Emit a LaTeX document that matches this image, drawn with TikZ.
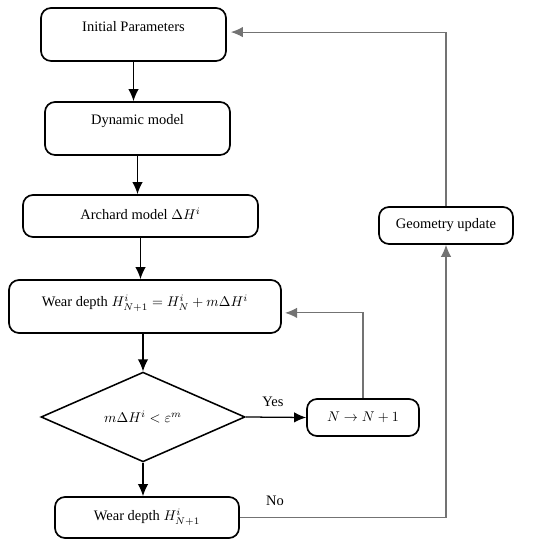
\documentclass[tikz,border=0pt]{standalone}
\usepackage{fontspec}
\setmainfont{Liberation Serif}
\usetikzlibrary{positioning}
\usetikzlibrary{arrows.meta,shapes.geometric}
\usetikzlibrary{calc}

\begin{document}
\begin{tikzpicture}[
    stepbox/.style={draw, line width=1.2pt, rectangle, rounded corners=2.5mm, inner sep=0pt, align=center, anchor=base},
    testbox/.style={draw, line width=1.1pt, diamond, inner sep=0pt, minimum width=5.1cm, minimum height=2.075cm},
    flow/.style={-{Latex[length=3mm,width=2.6mm]}, line width=0.9pt, black},
    back/.style={-{Latex[length=3mm,width=2.6mm]}, line width=0.8pt, black!55},
    font=\fontsize{10.3}{12.5}\selectfont]

    \useasboundingbox (0, 0) rectangle (13.4, 13.75);

    % main column
    \node[stepbox, minimum width=4.625cm, text height=0.6cm, text depth=0.725cm] (init) at (3.3375, 12.95) {Initial Parameters};

    \node[stepbox, minimum width=4.625cm, text height=0.575cm, text depth=0.75cm] (dyn) at (3.4375, 10.625) {Dynamic model};

    \node[stepbox, minimum width=5.875cm, text height=0.625cm, text depth=0.425cm] (arch) at (3.5125, 8.25) {Archard model $\Delta H^{i}$};

    \node[stepbox, minimum width=6.8cm, text height=0.675cm, text depth=0.65cm] (wear) at (3.625, 6.075) {Wear depth $H^{i}_{N+1} = H^{i}_{N} + m\Delta H^{i}$};

    \node[testbox] (cond) at (3.575, 3.325) {$m\Delta H^{i} < \varepsilon^{m}$};

    \node[stepbox, minimum width=4.6cm, text height=0.6cm, text depth=0.425cm] (final) at (3.675, 0.725) {Wear depth $H^{i}_{N+1}$};

    % right side
    \node[stepbox, anchor=center, minimum width=2.8cm, minimum height=0.925cm] (incr) at (9.075, 3.3125) {$N \rightarrow N + 1$};

    \node[stepbox, anchor=center, minimum width=3.35cm, minimum height=0.925cm] (geom) at (11.15, 8.1125) {Geometry update};

    % connectors
    \draw[flow] (init.south) -- (init.south |- dyn.north);
    \draw[flow] (dyn.south) -- (dyn.south |- arch.north);
    \draw[flow] (arch.south) -- (arch.south |- wear.north);
    \draw[flow] (cond.north |- wear.south) -- (cond.north);
    \draw[flow] (cond.south) -- (cond.south |- final.north);

    \draw[flow] (cond.east) -- node[above=4pt, pos=0.45] {Yes} (incr.west);

    \draw[back, shorten >=0.8mm] (incr.north) |- ([yshift=-0.16cm]wear.east);

    \draw[back] (final.east) -- node[above=5pt, pos=0.17, text=black] {No} (final.east -| geom.south) -- (geom.south);

    \draw[back, shorten >=1mm] (geom.north) |- ([yshift=0.06cm]init.east);

\end{tikzpicture}
\end{document}
